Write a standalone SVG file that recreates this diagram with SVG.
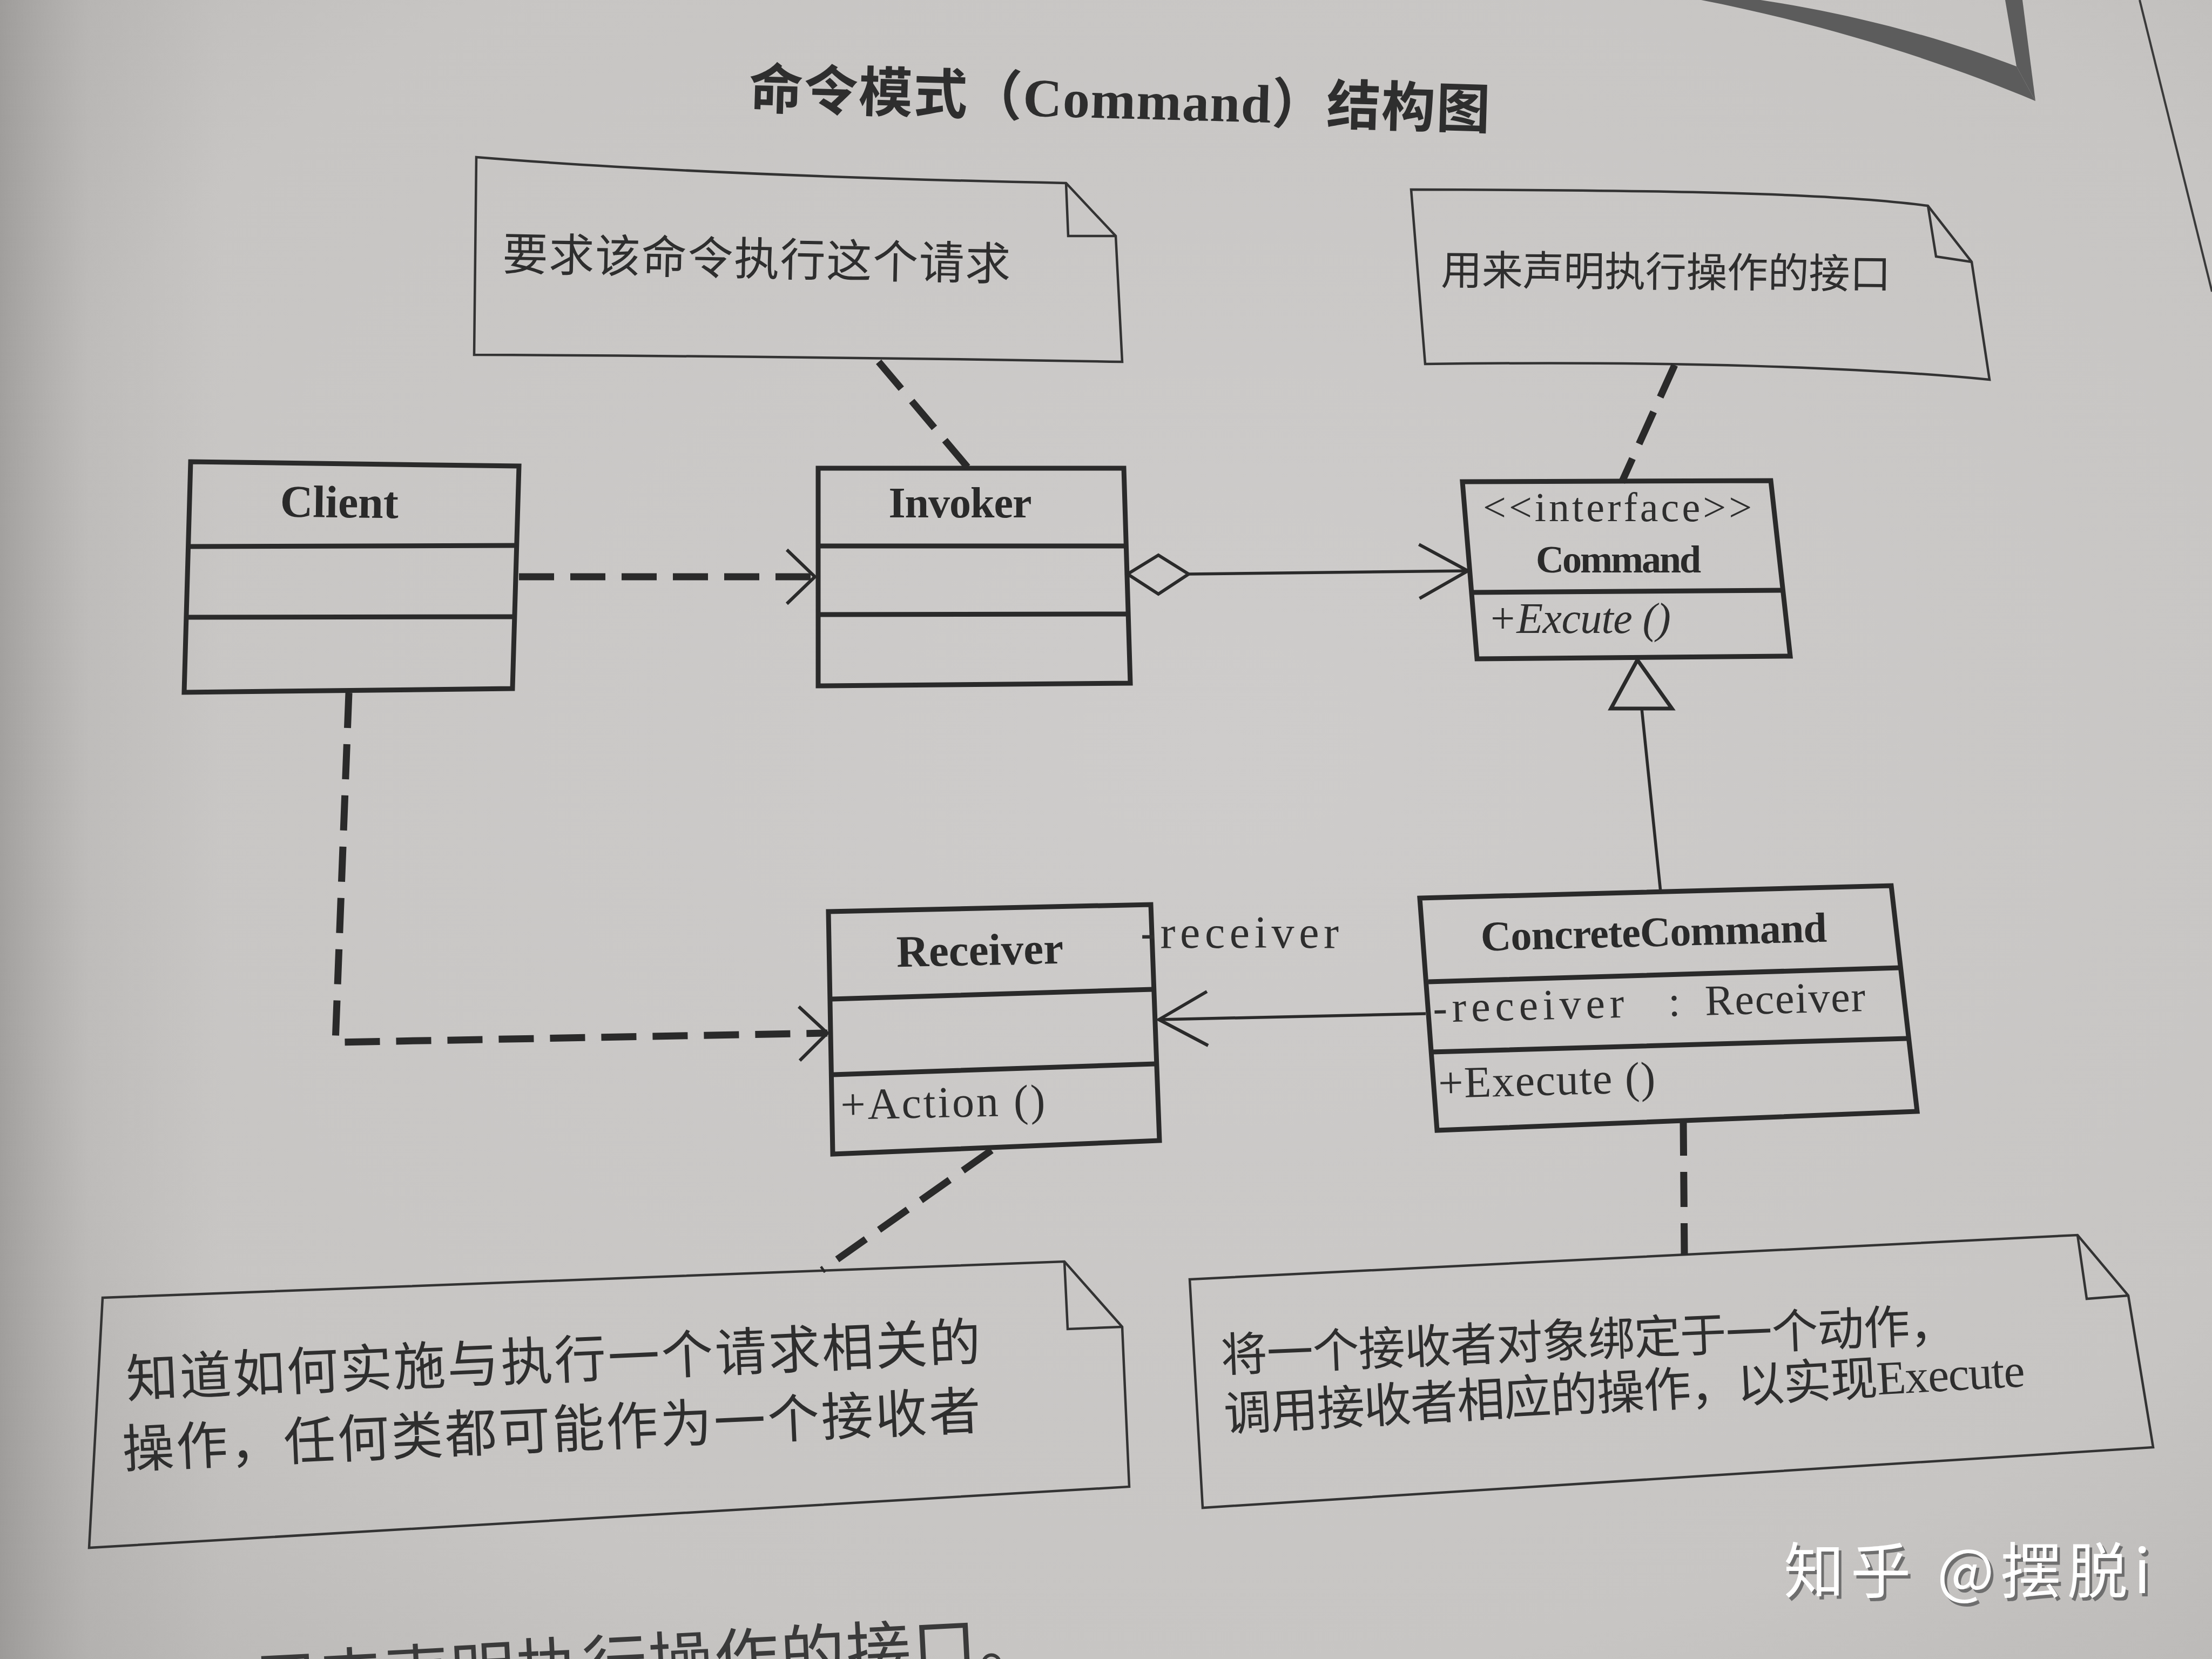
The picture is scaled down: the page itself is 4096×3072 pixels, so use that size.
<svg xmlns="http://www.w3.org/2000/svg" width="4096" height="3072" viewBox="0 0 4096 3072">
<defs>
<style>
.box{fill:none;stroke:#2a2a2a;stroke-width:9;stroke-linejoin:miter}
.div{fill:none;stroke:#2a2a2a;stroke-width:9}
.note{fill:none;stroke:#333;stroke-width:4.5;stroke-linejoin:miter}
.dash{fill:none;stroke:#2a2a2a;stroke-width:13;stroke-dasharray:65 30}
.solid{fill:none;stroke:#2a2a2a;stroke-width:5.5}
.cls{font-family:"Liberation Serif","Times New Roman",serif;font-weight:bold;fill:#2a2a2a;text-anchor:middle}
.mem{font-family:"Liberation Serif","Times New Roman",serif;fill:#2e2e2e}
.cjk{font-family:"Noto Sans CJK SC","Noto Sans",sans-serif;fill:#2e2e2e}
</style>
<marker id="openDash" markerUnits="userSpaceOnUse" viewBox="-70 -60 80 120" markerWidth="80" markerHeight="120" refX="0" refY="0" orient="auto">
<path d="M-52,-50 L0,0 L-52,50" fill="none" stroke="#2a2a2a" stroke-width="6"/>
</marker>
<marker id="openSolid" markerUnits="userSpaceOnUse" viewBox="-100 -60 110 120" markerWidth="110" markerHeight="120" refX="0" refY="0" orient="auto">
<path d="M-90,-50 L0,0 L-90,50" fill="none" stroke="#2a2a2a" stroke-width="6"/>
</marker>
<linearGradient id="leftShade" x1="0" y1="0" x2="1" y2="0">
<stop offset="0" stop-color="#8a8886" stop-opacity="0.6"/>
<stop offset="0.04" stop-color="#9a9896" stop-opacity="0.2"/>
<stop offset="0.1" stop-color="#9a9896" stop-opacity="0"/>
</linearGradient>
<radialGradient id="paper" cx="0.55" cy="0.45" r="0.8">
<stop offset="0" stop-color="#cecccb"/>
<stop offset="0.7" stop-color="#c7c5c3"/>
<stop offset="1" stop-color="#b6b4b2"/>
</radialGradient>
</defs>

<g id="background">
<rect x="0" y="0" width="4096" height="3072" fill="url(#paper)"/>
<rect x="0" y="0" width="4096" height="3072" fill="url(#leftShade)"/>
<path d="M3260,0 C3460,30 3620,80 3734,123 L3769,187 C3600,115 3380,45 3150,0 Z" fill="#5c5c5c"/>
<path d="M3713,0 L3745,0 L3769,187 L3734,123 Z" fill="#5c5c5c"/>
<path d="M3962,0 L4096,540" fill="none" stroke="#3a3a3a" stroke-width="4"/>
</g>

<g id="title">
<text class="cjk" x="1386" y="200" font-size="100" font-weight="bold" textLength="1373" transform="rotate(1.6 1386 200)">命令模式（<tspan font-family="Liberation Serif, Times New Roman, serif">Command</tspan>）结构图</text>
</g>

<g id="note-invoker">
<path class="note" d="M882,291 Q1300,325 1974,339 L2066,437 L2078,670 Q1500,660 878,657 Z"/>
<path class="note" d="M1974,339 L1978,437 L2066,437"/>
<text class="cjk" x="930" y="500" font-size="84" textLength="941" transform="rotate(1.16 930 500)">要求该命令执行这个请求</text>
</g>

<g id="note-command">
<path class="note" d="M2613,351 C3100,352 3400,358 3570,381 L3651,485 L3684,703 C3450,680 3100,668 2639,674 Z"/>
<path class="note" d="M3570,381 L3585,475 L3651,485"/>
<text class="cjk" x="2668" y="527" font-size="76" textLength="833" transform="rotate(0.5 2668 527)">用来声明执行操作的接口</text>
</g>

<g id="client">
<path class="box" d="M353,855 L961,863 L949,1275 L341,1282 Z"/>
<path class="div" d="M349,1012 L957,1010 M345,1143 L953,1142"/>
<text class="cls" x="628" y="958" font-size="84" textLength="219" transform="rotate(0.75 628 958)">Client</text>
</g>

<g id="invoker">
<path class="box" d="M1515,867 L2081,867 L2093,1265 L1515,1270 Z"/>
<path class="div" d="M1515,1011 L2085,1011 M1515,1138 L2089,1137"/>
<text class="cls" x="1778" y="958" font-size="80" textLength="265">Invoker</text>
</g>

<g id="command">
<path class="box" d="M2708,892 L3279,890 L3315,1215 L2735,1220 Z"/>
<path class="div" d="M2725,1097 L3300,1093"/>
<text class="mem" x="2746" y="965" font-size="76" textLength="498">&lt;&lt;interface&gt;&gt;</text>
<text class="cls" x="2997" y="1060" font-size="72" textLength="306">Command</text>
<text class="mem" x="2755" y="1172" font-size="80" font-style="italic" textLength="339">+Excute ()</text>
</g>

<g id="concrete-command">
<path class="box" d="M2629,1663 L3502,1640 L3550,2058 L2661,2093 Z"/>
<path class="div" d="M2645,1818 L3518,1792 M2651,1948 L3531,1923"/>
<text class="cls" x="3063" y="1752" font-size="78" textLength="641" transform="rotate(-1.5 3063 1752)">ConcreteCommand</text>
<text class="mem" x="2654" y="1893" font-size="80" transform="rotate(-1.5 2654 1893)"><tspan x="2654" textLength="354">-receiver</tspan><tspan x="3090">:</tspan><tspan x="3158" textLength="297">Receiver</tspan></text>
<text class="mem" x="2664" y="2033" font-size="82" textLength="402" transform="rotate(-1.5 2664 2033)">+Execute ()</text>
</g>

<g id="receiver">
<path class="box" d="M1534,1688 L2131,1675 L2147,2112 L1542,2137 Z"/>
<path class="div" d="M1540,1850 L2135,1832 M1542,1990 L2139,1970"/>
<text class="cls" x="1815" y="1787" font-size="83" textLength="309" transform="rotate(-1.25 1815 1787)">Receiver</text>
<text class="mem" x="1557" y="2073" font-size="82" textLength="379" transform="rotate(-1.25 1557 2073)">+Action ()</text>
</g>

<g id="note-receiver">
<path class="note" d="M190,2403 L1971,2336 L2078,2457 L2091,2753 L165,2866 Z"/>
<path class="note" d="M1971,2336 L1977,2461 L2078,2457"/>
<text class="cjk" x="235" y="2588" font-size="96" textLength="1584" transform="rotate(-2.5 235 2588)">知道如何实施与执行一个请求相关的</text>
<text class="cjk" x="228" y="2718" font-size="96" textLength="1591" transform="rotate(-2.6 228 2718)">操作，任何类都可能作为一个接收者</text>
</g>

<g id="note-concrete">
<path class="note" d="M2203,2369 L3847,2287 L3941,2399 L3987,2680 L2227,2792 Z"/>
<path class="note" d="M3847,2287 L3864,2405 L3941,2399"/>
<text class="cjk" x="2262" y="2540" font-size="86" textLength="1362" transform="rotate(-2.4 2262 2540)">将一个接收者对象绑定于一个动作，</text>
<text class="cjk" x="2268" y="2650" font-size="88" textLength="1485" transform="rotate(-3.2 2268 2650)">调用接收者相应的操作，以实现<tspan font-family="Liberation Serif, Times New Roman, serif">Execute</tspan></text>
</g>

<g id="connectors">
<path class="dash" d="M1627,670 L1795,869"/>
<path class="dash" d="M3101,676 L3003,893"/>
<path class="dash" d="M961,1068 L1509,1068" marker-end="url(#openDash)"/>
<path class="solid" d="M2201,1063 L2718,1057" marker-end="url(#openSolid)"/>
<polygon points="2088,1063 2145,1028 2201,1063 2145,1100" fill="none" stroke="#2a2a2a" stroke-width="6"/>
<path class="dash" d="M646,1283 L621,1930 L1532,1913" marker-end="url(#openDash)"/>
<path class="solid" d="M3075,1652 L3040,1312"/>
<polygon points="3032,1222 2983,1312 3096,1312" fill="none" stroke="#2a2a2a" stroke-width="7"/>
<path class="solid" d="M2640,1877 L2146,1888" marker-end="url(#openSolid)"/>
<path class="dash" d="M1836,2130 L1522,2352"/>
<path class="dash" d="M3117,2075 L3119,2324"/>
</g>

<g id="label-receiver">
<text class="mem" x="2112" y="1755" font-size="84" textLength="367">-receiver</text>
</g>

<g id="watermark">
<text class="cjk" x="3308" y="2956" font-size="112" textLength="679" style="fill:#6e6e6e">知乎 @摆脱i</text>
<text class="cjk" x="3303" y="2950" font-size="112" textLength="679" style="fill:#ffffff">知乎 @摆脱i</text>
</g>

<g id="page-text">
<text class="cjk" x="470" y="3160" font-size="120" textLength="1465" transform="rotate(-2.9 470 3160)" style="fill:#3a3a3a">用来声明执行操作的接口。</text>
</g>
</svg>
